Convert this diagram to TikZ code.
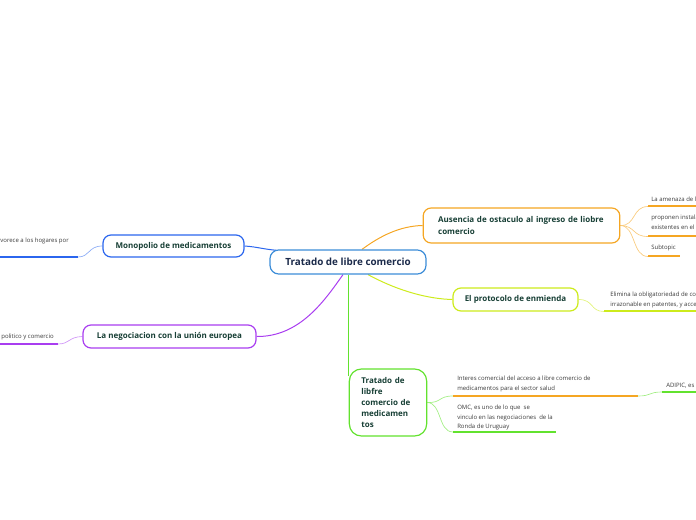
\documentclass[tikz,border=0pt]{standalone}
\usepackage{fontspec}
\setmainfont{Open Sans}
\usetikzlibrary{positioning,calc,backgrounds}
\definecolor{hubblue}{HTML}{3C8DD8}
\definecolor{hubtext}{HTML}{1B2A4A}
\definecolor{monoblue}{HTML}{2B66EE}
\definecolor{negpurple}{HTML}{A93EF0}
\definecolor{ausorange}{HTML}{F5A623}
\definecolor{protolime}{HTML}{CDEB1C}
\definecolor{medgreen}{HTML}{62E22E}
\definecolor{topictext}{HTML}{173F35}
\definecolor{subtext}{HTML}{3A3A3A}
\tikzset{
  hub/.style={draw=hubblue, rounded corners=6.5pt, line width=.9pt, fill=white, text=hubtext, font=\fontsize{7.4}{9}\selectfont\bfseries, minimum width=117pt, minimum height=18pt},
  topic/.style={draw, rounded corners=6pt, line width=.9pt, fill=white, text=topictext, font=\fontsize{6}{9.5}\selectfont\bfseries},
  sub/.style={font=\fontsize{4.5}{6.9}\selectfont, text=subtext, align=left, inner sep=0pt},
  conn/.style={line width=.75pt},
  subconn/.style={line width=.5pt},
  uline/.style={line width=1.5pt},
}
\begin{document}
\begin{tikzpicture}[x=0.75pt,y=-0.75pt]
  \useasboundingbox (0,0) rectangle (696,520);
  % central topic and main topics
  \node[hub] (hub) at (348,262) {Tratado de libre comercio};
  \node[topic, draw=monoblue, minimum width=105.75pt, minimum height=16.5pt] (mono) at (173.5,246) {Monopolio de medicamentos};
  \node[topic, draw=negpurple, minimum width=129.75pt, minimum height=17.25pt] (neg) at (169.5,336.5) {La negociacion con la unión europea};
  \node[topic, draw=ausorange, minimum height=26.25pt, text width=125pt, inner xsep=11.25pt, align=left] (aus) at (521.5,225.5) {Ausencia de ostaculo al ingreso de liobre\\comercio};
  \node[topic, draw=protolime, minimum width=93.75pt, minimum height=17.25pt] (proto) at (515.5,299.5) {El protocolo de enmienda};
  \node[topic, draw=medgreen, rounded corners=9pt, minimum height=50.25pt, text width=40pt, inner xsep=9pt, align=left, font=\fontsize{6}{8.1}\selectfont\bfseries] (med) at (388,402.5) {Tratado de\\libfre\\comercio de\\medicamen\\tos};

  % subtopic texts
  \node[sub, anchor=base east] (monoTxt) at (69,243) {favorece a los hogares por};
  \node[sub, anchor=base east] (negTxt) at (54,339) {politico y comercio};
  \node[sub, anchor=base west] (amenaza) at (651,202) {La amenaza de l};
  \node[sub, anchor=north west] (proponen) at (651,215) {proponen instala\\existentes en el};
  \node[sub, anchor=base west] (subtopic) at (651,250) {Subtopic};
  \node[sub, anchor=north west] (elimina) at (610,292) {Elimina la obligatoriedad de co\\irrazonable en patentes, y acce};
  \node[sub, anchor=north west] (interes) at (457,376) {Interes comercial del acceso a libre comercio de\\medicamentos para el sector salud};
  \node[sub, anchor=base west] (adpic) at (666,387) {ADIPIC, es};
  \node[sub, anchor=north west] (omc) at (457,405) {OMC, es uno de lo que\ \ se\\vinculo en las negociaciones\ \ de la\\Ronda de Uruguay};

  % underline ends
  \coordinate (monoL) at (78,257);
  \coordinate (negL) at (58,344);
  \coordinate (amenazaL) at (648,206.5);
  \coordinate (proponenL) at (648,236.5);
  \coordinate (subtopicL) at (648,256.5);
  \coordinate (eliminaL) at (604,311.5);
  \coordinate (interesL) at (453,396);
  \coordinate (interesR) at (638,396);
  \coordinate (adpicL) at (662,392);
  \coordinate (omcL) at (453,432);

  \begin{scope}[on background layer]
    % main connectors
    \draw[conn, monoblue] (mono.east) .. controls (258,247) and (262,249) .. ($(hub.north west)+(8,1)$);
    \draw[conn, negpurple] (neg.east) .. controls (300,337) and (325,300) .. ($(hub.south)+(-5,0)$);
    \draw[conn, ausorange] ($(hub.north)+(14,0)$) .. controls (380,236) and (400,226) .. (aus.west);
    \draw[conn, protolime] ($(hub.south)+(20,0)$) .. controls (400,292) and (430,299) .. (proto.west);
    \draw[conn, medgreen] (hub.south) -- ($(hub.south |- med.north)+(0,8)$);

    % branches to subtopics
    \draw[subconn, monoblue!55] (mono.west) .. controls (88,246) and (90,257) .. (monoL);
    \draw[uline, monoblue] (monoL) -- ++(-90,0);
    \draw[subconn, negpurple!55] (neg.west) .. controls (68,337) and (70,344) .. (negL);
    \draw[uline, negpurple] (negL) -- ++(-70,0);
    \draw[subconn, ausorange!60] (aus.east) .. controls (636,226) and (632,206.5) .. (amenazaL);
    \draw[subconn, ausorange!60] (aus.east) .. controls (636,226) and (632,236.5) .. (proponenL);
    \draw[subconn, ausorange!60] (aus.east) .. controls (636,226) and (632,256.5) .. (subtopicL);
    \draw[uline, ausorange] (amenazaL) -- ++(60,0);
    \draw[uline, ausorange] (proponenL) -- ++(60,0);
    \draw[uline, ausorange] (subtopicL) -- ++(32,0);
    \draw[subconn, protolime!60] (proto.east) .. controls (594,299.5) and (590,311.5) .. (eliminaL);
    \draw[uline, protolime] (eliminaL) -- ++(100,0);
    \draw[subconn, medgreen!60] (med.east) .. controls (442,403) and (438,396) .. (interesL);
    \draw[subconn, medgreen!60] (med.east) .. controls (442,403) and (438,432) .. (omcL);
    \draw[uline, ausorange] (interesL) -- (interesR);
    \draw[subconn, medgreen!60] (interesR) .. controls (652,396) and (648,392) .. (adpicL);
    \draw[uline, medgreen] (adpicL) -- ++(40,0);
    \draw[uline, medgreen] (omcL) -- ++(103,0);
  \end{scope}
\end{tikzpicture}
\end{document}
